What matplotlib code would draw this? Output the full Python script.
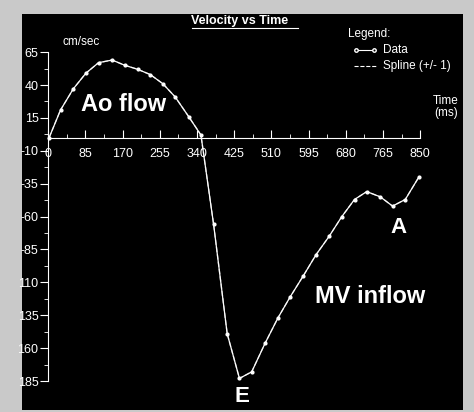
import matplotlib
matplotlib.use('Agg')
import matplotlib.pyplot as plt
import numpy as np

plt.rcParams['font.family'] = ['Liberation Sans', 'DejaVu Sans']

# velocity samples (ms, cm/sec)
time_ms = [2, 28, 57, 86, 115, 146, 175, 204, 233, 262, 290, 321, 349,
           378, 409, 437, 465, 496, 525, 553, 583, 612, 642, 671, 700,
           728, 759, 787, 816, 847]
velocity = [0, 21, 37, 49, 57, 59, 55, 52, 48, 41, 31, 16, 2,
            -66, -149, -183, -178, -156, -137, -121, -105, -89, -75, -60, -47,
            -41, -45, -52, -47, -30]

x_ticks = [0, 85, 170, 255, 340, 425, 510, 595, 680, 765, 850]
x_labels = ['0', '85', '170', '255', '340', '425', '510', '595', '680', '765', '850']
y_ticks = [65, 40, 15, -10, -35, -60, -85, -110, -135, -160, -185]
y_labels = ['65', '40', '15', '-10', '-35', '-60', '-85', '110', '135', '160', '185']

fig = plt.figure(figsize=(4.74, 4.12), dpi=100)
fig.patch.set_facecolor('#c9c9c9')
ax = fig.add_axes([22/474, 1 - 410/412, (463-22)/474, (410-14)/412])
ax.set_facecolor('black')

ax.plot(time_ms, velocity, color='#9a9a9a', lw=1.0, ls='--', zorder=2)
ax.plot(time_ms, velocity, color='white', lw=0.9, marker='o', ms=2, zorder=3)

ax.set_xlim(-60, 948)
ax.set_ylim(-207, 94)

for s in ['top', 'right']:
    ax.spines[s].set_visible(False)
ax.spines['left'].set_position(('data', 0))
ax.spines['bottom'].set_position(('data', 0))
ax.spines['left'].set_bounds(-185, 65)
ax.spines['bottom'].set_bounds(0, 850)
ax.spines['left'].set_color('white')
ax.spines['bottom'].set_color('white')

ax.set_xticks(x_ticks)
ax.set_xticklabels([])
ax.set_xticks(np.arange(42.5, 850, 85), minor=True)
ax.set_yticks(y_ticks)
ax.set_yticklabels(y_labels)
ax.set_yticks(np.arange(-172.5, 65, 25), minor=True)
ax.tick_params(axis='x', which='major', direction='in', length=6, color='white')
ax.tick_params(axis='x', which='minor', direction='in', length=3, color='white')
ax.tick_params(axis='y', which='major', direction='out', length=6, color='white',
               labelcolor='white', labelsize=9, pad=1)
ax.tick_params(axis='y', which='minor', direction='out', length=3, color='white')
for xv, lab in zip(x_ticks, x_labels):
    ax.text(xv, -8, lab, color='white', fontsize=9, ha='center', va='top')

fig.text(240/474, 1 - 21/412, 'Velocity vs Time', color='white', fontsize=9,
         fontweight='bold', ha='center', va='center')
fig.add_artist(plt.Line2D([192/474, 298/474], [1 - 28/412, 1 - 28/412],
                          color='white', lw=0.8))
fig.text(62/474, 1 - 42/412, 'cm/sec', color='white', fontsize=8.5, va='center')
fig.text(348/474, 1 - 34/412, 'Legend:', color='white', fontsize=8.5, va='center')
fig.add_artist(plt.Line2D([356/474, 374/474], [1 - 50/412, 1 - 50/412],
                          color='white', lw=0.8, marker='o', ms=2.5,
                          markevery=[0, 1], markerfacecolor='black'))
fig.text(383/474, 1 - 50/412, 'Data', color='white', fontsize=8.5, va='center')
fig.add_artist(plt.Line2D([354/474, 376/474], [1 - 66/412, 1 - 66/412],
                          color='white', lw=0.8, ls='--'))
fig.text(383/474, 1 - 66/412, 'Spline (+/- 1)', color='white', fontsize=8.5, va='center')
fig.text(446/474, 1 - 107/412, 'Time\n(ms)', color='white', fontsize=8.5,
         ha='center', va='center', linespacing=0.95)

ax.text(75, 25, 'Ao flow', color='white', fontsize=17, fontweight='bold',
        va='center')
ax.text(735, -121, 'MV inflow', color='white', fontsize=17, fontweight='bold',
        ha='center', va='center')
ax.text(443, -197, 'E', color='white', fontsize=16, fontweight='bold',
        ha='center', va='center')
ax.text(800, -68, 'A', color='white', fontsize=16, fontweight='bold',
        ha='center', va='center')

fig.savefig('out.png', dpi=100, facecolor=fig.get_facecolor())
